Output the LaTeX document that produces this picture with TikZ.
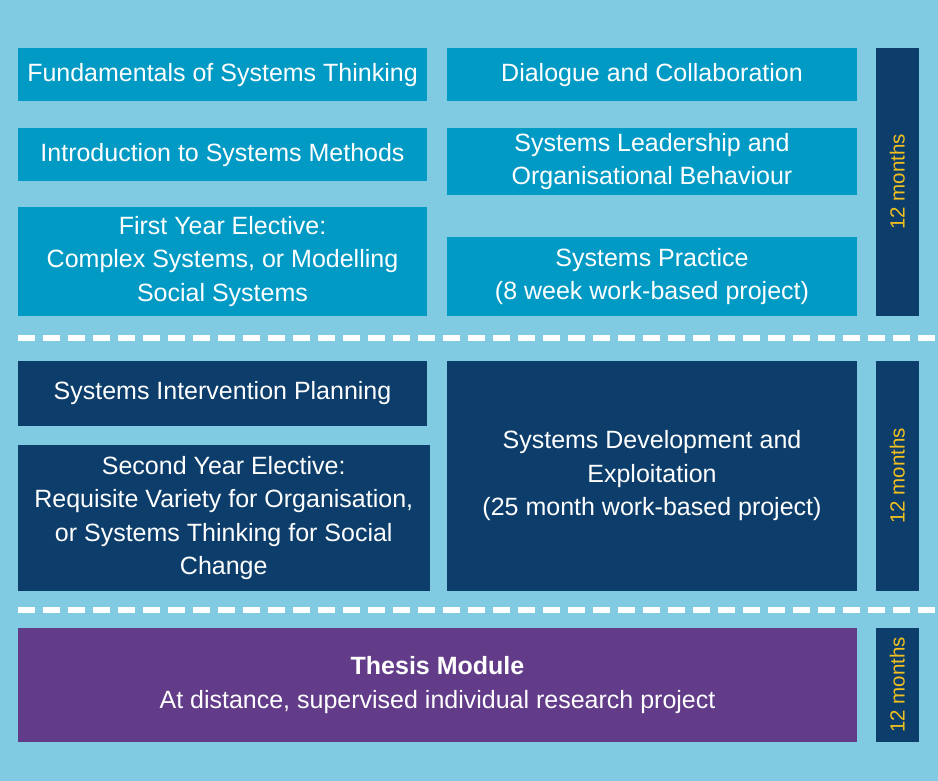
\documentclass[tikz,border=0pt]{standalone}
\usepackage{fontspec}
\setmainfont{Liberation Sans}
\definecolor{bglight}{HTML}{80CBE2}
\definecolor{midblue}{HTML}{009AC5}
\definecolor{navy}{HTML}{0D3E6B}
\definecolor{purp}{HTML}{623C88}
\definecolor{gold}{HTML}{F2C01E}
\tikzset{
  modbox/.style={inner sep=0pt, outer sep=0pt, align=center, text=white,
    font={\fontsize{25}{33.5}\selectfont}},
  yearone/.style={modbox, fill=midblue},
  yeartwo/.style={modbox, fill=navy},
  thesisbox/.style={modbox, fill=purp},
  monthbox/.style={inner sep=0pt, outer sep=0pt, fill=navy, text=gold, rotate=90,
    font={\fontsize{20.5}{24}\selectfont}},
  dashline/.style={draw=white, line width=5.5pt, dash pattern=on 16.7pt off 8.3pt}
}
\begin{document}
\begin{tikzpicture}[x=1pt, y=-1pt]
\fill[bglight] (0,0) rectangle (938,781);
\useasboundingbox (0,0) rectangle (938,781);
% Year one
\node[yearone, minimum width=409pt, minimum height=53.5pt] (fst) at (222.5,74.75) {Fundamentals of Systems Thinking};
\node[yearone, minimum width=410pt, minimum height=53.5pt] (dlg) at (652,74.75) {Dialogue and Collaboration};
\node[yearone, minimum width=409pt, minimum height=53.5pt] (intro) at (222.5,154.75) {Introduction to Systems Methods};
\node[yearone, minimum width=410pt, minimum height=67pt] (lead) at (652,161.5) {Systems Leadership and\\Organisational Behaviour};
\node[yearone, minimum width=409pt, minimum height=109pt] (fye) at (222.5,261.5) {First Year Elective:\\Complex Systems, or Modelling\\Social Systems};
\node[yearone, minimum width=410pt, minimum height=79pt] (prac) at (652,276.5) {Systems Practice\\(8 week work-based project)};
\node[monthbox, minimum width=268pt, minimum height=42.5pt] (m1) at (897.25,182) {12 months};
% divider 1
\coordinate (d1s) at (18,338);
\coordinate (d1e) at (938,338);
\draw[dashline] (d1s) -- (d1e);
% Year two
\node[yeartwo, minimum width=409pt, minimum height=65.5pt] (sip) at (222.5,393.25) {Systems Intervention Planning};
\node[yeartwo, minimum width=411.5pt, minimum height=146pt] (sye) at (223.75,518) {Second Year Elective:\\Requisite Variety for Organisation,\\or Systems Thinking for Social\\Change};
\node[yeartwo, minimum width=410pt, minimum height=230.5pt] (sde) at (652,475.75) {Systems Development and\\Exploitation\\(25 month work-based project)};
\node[monthbox, minimum width=230.5pt, minimum height=42.5pt] (m2) at (897.25,475.75) {12 months};
% divider 2
\coordinate (d2s) at (18,610);
\coordinate (d2e) at (938,610);
\draw[dashline] (d2s) -- (d2e);
% Thesis
\node[thesisbox, minimum width=839pt, minimum height=114pt] (thesis) at (437.5,685) {\textbf{Thesis Module}\\At distance, supervised individual research project};
\node[monthbox, minimum width=114pt, minimum height=42.5pt] (m3) at (897.25,685) {12 months};
\end{tikzpicture}
\end{document}
